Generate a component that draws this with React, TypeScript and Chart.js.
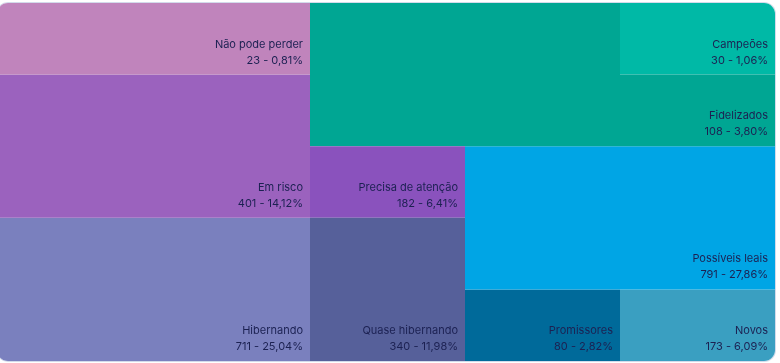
import React, { useEffect, useRef } from "react";
import { Chart, registerables } from "chart.js";

Chart.register(...registerables);

const recencyScores = ["1", "2", "3", "4", "5"];
const segments = [
  "Não pode perder",
  "Em risco",
  "Hibernando",
  "Quase hibernando",
  "Precisa de atenção",
  "Fidelizados",
  "Campeões",
  "Possíveis leais",
  "Promissores",
  "Novos",
];
const counts = [23, 401, 711, 340, 182, 108, 30, 791, 80, 173];
const percents = ["0,81", "14,12", "25,04", "11,98", "6,41", "3,80", "1,06", "27,86", "2,82", "6,09"];
// frequency score range [from, to] covered by each segment in each recency column
const scoreRanges: ([number, number] | null)[][] = [
  [[4, 5], [4, 5], null, null, null],
  [[2, 4], [2, 4], null, null, null],
  [[0, 2], [0, 2], null, null, null],
  [null, null, [0, 2], null, null],
  [null, null, [2, 3], null, null],
  [null, null, [3, 5], [3, 5], [3, 4]],
  [null, null, null, null, [4, 5]],
  [null, null, null, [1, 3], [1, 3]],
  [null, null, null, [0, 1], null],
  [null, null, null, null, [0, 1]],
];
const colors = [
  "#c084bc",
  "#9b62be",
  "#7a80be",
  "#56609a",
  "#8a52bd",
  "#00a693",
  "#00b9a6",
  "#00a5e5",
  "#006a9a",
  "#3a9fc1",
];

const labelPlugin = {
  id: "segmentLabels",
  afterDatasetsDraw(chart: any) {
    const ctx = chart.ctx;
    ctx.save();
    ctx.fillStyle = "#1c2152";
    ctx.textAlign = "right";
    ctx.textBaseline = "alphabetic";
    ctx.font = "11px Inter, 'Noto Sans', sans-serif";
    chart.data.datasets.forEach((ds: any, i: number) => {
      const meta = chart.getDatasetMeta(i);
      let last = -1;
      ds.data.forEach((v: any, j: number) => {
        if (v) last = j;
      });
      if (last < 0) return;
      const el: any = meta.data[last];
      const right = el.x + el.width / 2 - 7;
      const bottom = Math.max(el.y, el.base);
      ctx.fillText(`${counts[i]} - ${percents[i]}%`, right, bottom - 11);
      ctx.fillText(segments[i], right, bottom - 27);
    });
    ctx.restore();
  },
};

export default function App() {
  const ref = useRef<HTMLCanvasElement>(null);
  useEffect(() => {
    document.body.style.margin = "0";
    const chart = new Chart(ref.current!, {
      type: "bar",
      data: {
        labels: recencyScores,
        datasets: segments.map((s, i) => ({
          label: s,
          data: scoreRanges[i] as any,
          backgroundColor: colors[i],
          borderWidth: 0,
          inflateAmount: 0,
          grouped: false,
          barPercentage: 1,
          categoryPercentage: 1,
        })),
      },
      options: {
        animation: false,
        responsive: false,
        maintainAspectRatio: false,
        layout: { padding: { left: 3, right: 0, top: 0, bottom: 0 } },
        plugins: { legend: { display: false }, tooltip: { enabled: false } },
        scales: {
          x: { display: false },
          y: { display: false, min: 0, max: 5 },
        },
      },
      plugins: [labelPlugin],
    });
    return () => chart.destroy();
  }, []);
  return (
    <div style={{ position: "relative", width: 780, height: 363, overflow: "hidden" }}>
      <div
        style={{
          position: "absolute",
          left: -3,
          top: 3,
          width: 778,
          height: 358,
          borderRadius: 11,
          overflow: "hidden",
          boxShadow: "0 0 0 1px #d3dbeb",
        }}
      >
        <canvas ref={ref} width={778} height={358} style={{ display: "block" }} />
      </div>
    </div>
  );
}
